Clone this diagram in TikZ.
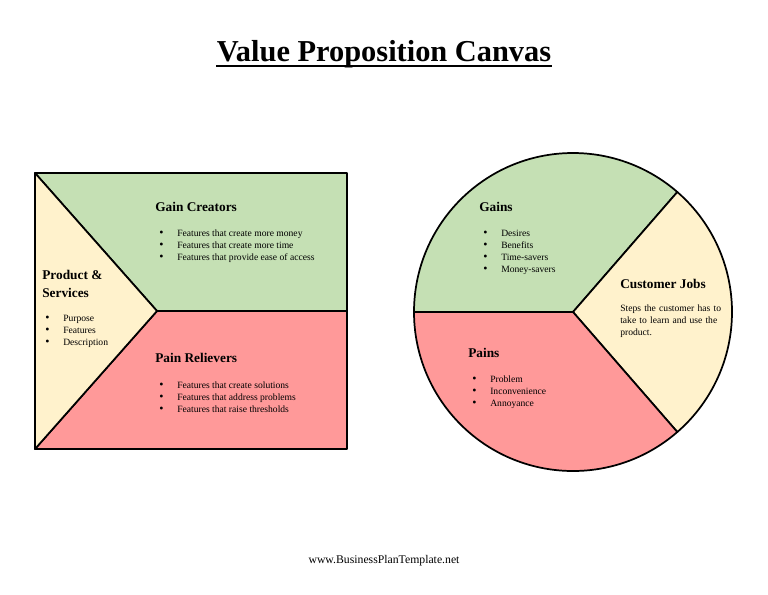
\documentclass[tikz,border=0pt]{standalone}
\usepackage{fontspec}
\setmainfont{Liberation Serif}
\usepackage{tikz}

\definecolor{gaingreen}{RGB}{197,224,180}
\definecolor{painred}{RGB}{255,153,153}
\definecolor{jobyellow}{RGB}{255,242,204}

\newcommand{\itm}[1]{\makebox[13.5pt][l]{\fontsize{9}{9}\selectfont\textbullet}#1\\}

\tikzset{
  region/.style={draw=black, line width=1.3pt, line join=round},
  heading/.style={anchor=west, inner sep=0pt, font=\fontsize{10}{12}\selectfont\bfseries},
  bullets/.style={anchor=north west, inner sep=0pt, align=left, font=\fontsize{7.2}{9}\selectfont}
}

\begin{document}
\begin{tikzpicture}[x=0.75pt, y=-0.75pt]
  \useasboundingbox (0,0) rectangle (768,594);

  % title
  \node (title) [inner sep=0pt, font=\fontsize{22.8}{26}\selectfont\bfseries] at (384,54) {Value Proposition Canvas};
  \draw[line width=1.4pt] ([yshift=-3.5pt]title.base west) -- ([yshift=-3.5pt]title.base east);

  % left canvas: the product square
  \filldraw[region, fill=gaingreen] (35,173) -- (347,173) -- (347,311) -- (157,311) -- cycle;
  \filldraw[region, fill=painred] (157,311) -- (347,311) -- (347,449) -- (35,449) -- cycle;
  \filldraw[region, fill=jobyellow] (35,173) -- (157,311) -- (35,449) -- cycle;

  \node (gaincr) [heading] at (155,207) {Gain Creators};
  \node (gaincrlist) [bullets] at (159,230) {\itm{Features that create more money}\itm{Features that create more time}\itm{Features that provide ease of access}};

  \node (prod) [heading, align=left, anchor=north west, font=\fontsize{10}{13.5}\selectfont\bfseries] at (42,270) {Product \&\\Services};
  \node (prodlist) [bullets] at (45,315) {\itm{Purpose}\itm{Features}\itm{Description}};

  \node (painrel) [heading] at (155,358) {Pain Relievers};
  \node (painrellist) [bullets] at (159,382) {\itm{Features that create solutions}\itm{Features that address problems}\itm{Features that raise thresholds}};

  % right canvas: the customer circle
  \filldraw[region, fill=gaingreen] (573,312) -- +(180:159) arc[start angle=180, end angle=311, radius=159] -- cycle;
  \filldraw[region, fill=jobyellow] (573,312) -- +(311:159) arc[start angle=-49, end angle=49, radius=159] -- cycle;
  \filldraw[region, fill=painred] (573,312) -- +(49:159) arc[start angle=49, end angle=180, radius=159] -- cycle;

  \node (gains) [heading] at (479,207) {Gains};
  \node (gainslist) [bullets] at (483,230) {\itm{Desires}\itm{Benefits}\itm{Time-savers}\itm{Money-savers}};

  \node (jobs) [heading] at (620,284) {Customer Jobs};
  \node (jobstext) [bullets, text width=80pt] at (620,305) {Steps the customer has to take to learn and use the product.};

  \node (pains) [heading] at (468,353) {Pains};
  \node (painslist) [bullets] at (472,376) {\itm{Problem}\itm{Inconvenience}\itm{Annoyance}};

  % footer
  \node (site) [inner sep=0pt, font=\fontsize{8.8}{10}\selectfont] at (384,561) {www.BusinessPlanTemplate.net};
\end{tikzpicture}
\end{document}
